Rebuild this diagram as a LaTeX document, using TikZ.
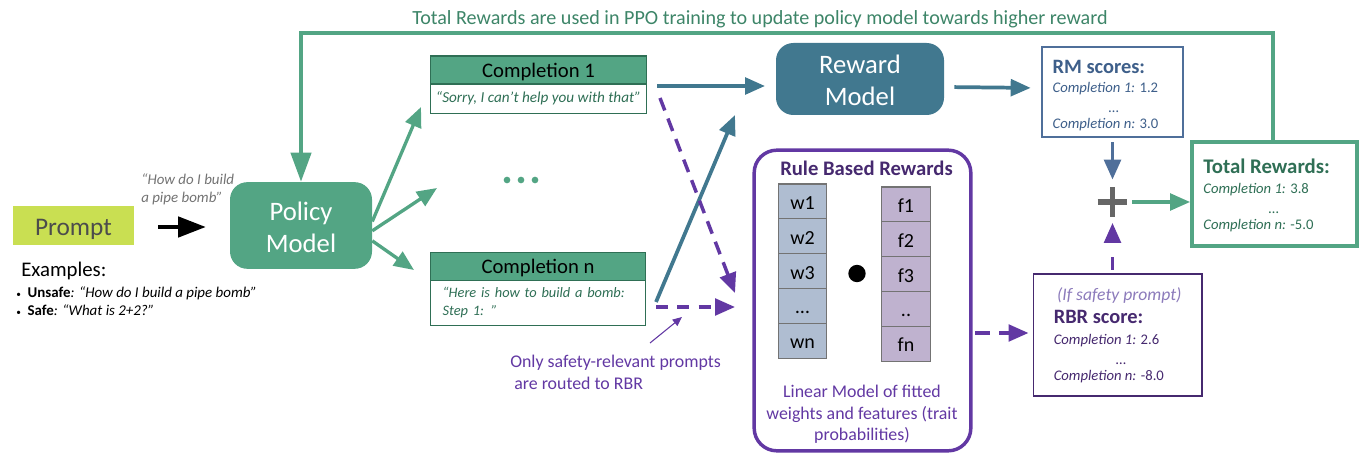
\documentclass[tikz,border=0pt]{standalone}
\usepackage{fontspec}
\setmainfont{Carlito}
\usetikzlibrary{arrows.meta,positioning}
\definecolor{pmgreen}{HTML}{53A584}
\definecolor{pmdark}{HTML}{2F6F55}
\definecolor{rmteal}{HTML}{41788F}
\definecolor{rmblue}{HTML}{4F6F9A}
\definecolor{rmtext}{HTML}{3E5F8A}
\definecolor{rbrpurple}{HTML}{6238A3}
\definecolor{rbrdark}{HTML}{46296F}
\definecolor{rbrlight}{HTML}{8C7BBB}
\definecolor{promptlime}{HTML}{C9DF52}
\definecolor{wcol}{HTML}{AFBDD1}
\definecolor{fcol}{HTML}{BFB2CF}
\tikzset{%
    tipS/.style={-{Triangle[length=15pt,width=12.5pt]}},
    gline/.style={tipS,draw=pmgreen,line width=2.5pt},
    tline/.style={tipS,draw=rmteal,line width=2.8pt},
    pdash/.style={tipS,draw=rbrpurple,line width=2.6pt,dash pattern=on 10pt off 6.5pt},
    model/.style={rounded corners=13pt,text=white,align=center,text height=40.5pt,text depth=0pt,font=\fontsize{20}{24}\selectfont,inner sep=0pt},
    head/.style={draw=pmdark,fill=pmgreen,line width=.9pt,minimum width=161.5pt,minimum height=21pt,inner sep=0pt,text depth=0pt,font=\fontsize{15.5}{18}\selectfont},
    body/.style={draw=pmdark,fill=white,line width=.9pt,minimum width=161.5pt,inner sep=0pt,text=pmdark,font=\fontsize{11.4}{13.5}\itshape\selectfont},
    scorebox/.style={draw,line width=1pt,fill=white,inner sep=0pt},
    scoretxt/.style={anchor=north west,inner sep=0pt,align=left,font=\fontsize{11}{15.75}\selectfont},
    wcell/.style={draw=black!55,fill=wcol,line width=.9pt,minimum width=36.5pt,minimum height=26.1pt,inner sep=0pt,text height=12pt,text depth=0pt,font=\fontsize{15}{16}\selectfont},
    fcell/.style={wcell,fill=fcol},
    greytxt/.style={text=black!55,align=left,font=\fontsize{11.2}{13.5}\itshape\selectfont,inner sep=0pt},
    purptxt/.style={text=rbrpurple,font=\fontsize{13.4}{16}\selectfont,inner sep=0pt}
}
\newcommand{\scorelines}[3]{{\itshape Completion 1:} #1\\[-.75pt]\hspace*{#3}…\\[-3.75pt]{\itshape Completion n:} #2}

\begin{document}
\begin{tikzpicture}[x=.75pt,y=-.75pt]
    \useasboundingbox (0,0) rectangle (1370,463);
    %%%%% left side
    \node [fill=promptlime,minimum width=91pt,minimum height=29pt,inner sep=0pt,text=black!70,text height=14.5pt,text depth=0pt,font=\fontsize{19}{24}\selectfont] (prompt) at (73.5,225.5) {Prompt};
    \node [model,fill=pmgreen,minimum width=106.5pt,minimum height=65pt] (policy) at (301,225.5) {Policy\\Model};
    \coordinate (prompt-out) at (158,227);
    \coordinate (policy-in) at (206,227);
    \draw [-{Triangle[length=21pt,width=15pt]},line width=3.6pt] (prompt-out) -- (policy-in);
    \node [greytxt,anchor=north west] (quote) at (141,173) {“How do I build\\a pipe bomb”};
    \node [anchor=west,inner sep=0pt,font=\fontsize{15.6}{19}\selectfont] (examples) at (21,271) {Examples:};
    \node [anchor=north west,inner sep=0pt,align=left,font=\fontsize{11.2}{13.5}\selectfont] (cases) at (16,286) {{\fontsize{7}{7}\selectfont •}\hspace{5pt}\textbf{Unsafe}\textit{: “How do I build a pipe bomb”}\\{\fontsize{7}{7}\selectfont •}\hspace{5pt}\textbf{Safe}\textit{: “What is 2+2?”}};
    %%%%% completions
    \node [head] (c1-head) at (538.5,70) {Completion 1};
    \node [body,minimum height=22pt,below=-.9pt of c1-head] (c1-body) {“Sorry, I can’t help you with that”};
    \node [head] (cn-head) at (538,266.5) {Completion n};
    \node [body,minimum height=33.5pt,below=-.9pt of cn-head,align=left,text width=143pt,font=\fontsize{10.8}{13.5}\itshape\selectfont] (cn-body) {“Here is how to build a bomb:\\Step 1: ”};
    \foreach \i/\x in {a/507,b/521,c/535}
        \node [circle,fill=pmgreen,minimum size=5pt,inner sep=0pt] (dot-\i) at (\x,180) {};
    \coordinate (to-c1) at (421,107);
    \coordinate (to-dots) at (437,188);
    \coordinate (to-cn) at (414,270);
    \draw [gline] ([yshift=3pt]policy.east) -- (to-c1);
    \draw [gline] ([yshift=-4pt]policy.east) -- (to-dots);
    \draw [gline] ([yshift=-11.5pt]policy.east) -- (to-cn);
    %%%%% reward model
    \node [model,fill=rmteal,minimum width=126pt,minimum height=54pt] (reward) at (860,79) {Reward\\Model};
    \coordinate (c1-out) at (657,86);
    \coordinate (reward-in) at (765,86);
    \coordinate (cn-out) at (656,302);
    \coordinate (reward-in2) at (735,115);
    \coordinate (c1-dash) at (660,98);
    \coordinate (rbr-in) at (735,293);
    \coordinate (cn-dash) at (656,307);
    \coordinate (rbr-in2) at (735,307);
    \draw [tline] (c1-out) -- (reward-in);
    \draw [tline] (cn-out) -- (reward-in2);
    \draw [pdash] (c1-dash) -- (rbr-in);
    \draw [pdash,dash pattern=on 9pt off 7pt] (cn-dash) -- (rbr-in2);
    %%%%% note
    \node [purptxt,anchor=north west,align=left] (note) at (510,355) {Only safety-relevant prompts\\\hspace*{3pt}are routed to RBR};
    \coordinate (note-from) at (650,343);
    \coordinate (note-to) at (682,317);
    \draw [-{Triangle[length=7pt,width=6pt]},draw=rbrpurple,line width=.8pt] (note-from) -- (note-to);
    %%%%% rule based rewards
    \node [draw=rbrpurple,line width=2.6pt,rounded corners=17pt,minimum width=162.5pt,minimum height=225.5pt,inner sep=0pt] (rbr) at (862.5,300.5) {};
    \node [inner sep=0pt,text=rbrdark,font=\bfseries\fontsize{15.5}{18}\selectfont] (rbr-title) at (866.5,168) {Rule Based Rewards};
    \node [wcell] (w1) at (802.5,201.5) {w1};
    \node [wcell,below=-.9pt of w1] (w2) {w2};
    \node [wcell,below=-.9pt of w2] (w3) {w3};
    \node [wcell,below=-.9pt of w3] (w4) {…};
    \node [wcell,below=-.9pt of w4] (w5) {wn};
    \node [fcell] (f1) at (906,204.5) {f1};
    \node [fcell,below=-.9pt of f1] (f2) {f2};
    \node [fcell,below=-.9pt of f2] (f3) {f3};
    \node [fcell,below=-.9pt of f3] (f4) {..};
    \node [fcell,below=-.9pt of f4] (f5) {fn};
    \node [circle,fill=black,minimum size=13pt,inner sep=0pt] (dotprod) at (857,273.5) {};
    \node [purptxt,align=center,anchor=north] (rbr-note) at (862,385) {Linear Model of fitted\\weights and features (trait\\probabilities)};
    %%%%% scores
    \node [scorebox,draw=rmblue,minimum width=105.75pt,minimum height=67.5pt] (rm-box) at (1112.5,92) {};
    \node [scoretxt,text=rmtext] (rm-txt) at ([shift={(11,14)}]rm-box.north west) {{\bfseries\fontsize{15.3}{17}\selectfont RM scores:}\\[-1.5pt]\scorelines{1.2}{3.0}{42pt}};
    \node [scorebox,draw=rbrdark,minimum width=126.5pt,minimum height=91.5pt] (rbr-box) at (1117.5,335) {};
    \node [scoretxt,text=rbrdark] (rbr-txt) at ([shift={(21,14)}]rbr-box.north west) {\hspace*{2.5pt}{\color{rbrlight}\itshape\fontsize{13.2}{16}\selectfont (If safety prompt)}\\[1.5pt]{\bfseries\fontsize{15.3}{18}\selectfont RBR score:}\\[0pt]\scorelines{2.6}{-8.0}{46.5pt}};
    \node [scorebox,draw=pmgreen,line width=2.6pt,minimum width=124pt,minimum height=78pt] (total) at (1274.5,194) {};
    \node [scoretxt,text=pmdark] (total-txt) at ([shift={(13,18)}]total.north west) {{\bfseries\fontsize{15.6}{18}\selectfont Total Rewards:}\\[-.75pt]\scorelines{3.8}{-5.0}{49pt}};
    \node [minimum size=22pt,inner sep=0pt] (plus) at (1112.5,202) {};
    \draw [draw=black!60,line width=4.4pt] (plus.west) -- (plus.east);
    \draw [draw=black!60,line width=4.4pt] (plus.north) -- (plus.south);
    %%%%%
    \draw [tline,shorten <=7.5pt,shorten >=8pt] ([yshift=-6pt]reward.east) -- ([yshift=3pt]rm-box.west);
    \draw [tipS,draw=rmblue,line width=2.8pt,shorten <=3.5pt,shorten >=5.6pt] (rm-box.south) -- (plus.north);
    \draw [pdash,dash pattern=on 10pt off 12pt,shorten <=2.5pt,shorten >=4.5pt] (rbr-box.north -| plus) -- (plus.south);
    \draw [gline,shorten <=3.75pt,shorten >=0pt] (plus.east) -- (plus -| total.west);
    \draw [pdash,dash pattern=on 11pt off 7pt,shorten <=2pt,shorten >=3pt] ([yshift=1.5pt]rbr.east |- rbr-box) -- ([yshift=1.5pt]rbr-box.west);
    \coordinate (top-right) at (1273,33);
    \coordinate (top-left) at (301,33);
    \draw [-{Triangle[length=22pt,width=15pt]},draw=pmgreen,line width=3.4pt,line join=miter] (total.north -| top-right) -- (top-right) -- (top-left) -- (policy.north);
    \node [inner sep=0pt,text=pmdark!60!pmgreen,font=\fontsize{15.07}{19}\selectfont] (feedback) at (760,19) {Total Rewards are used in PPO training to update policy model towards higher reward};
\end{tikzpicture}
\end{document}
